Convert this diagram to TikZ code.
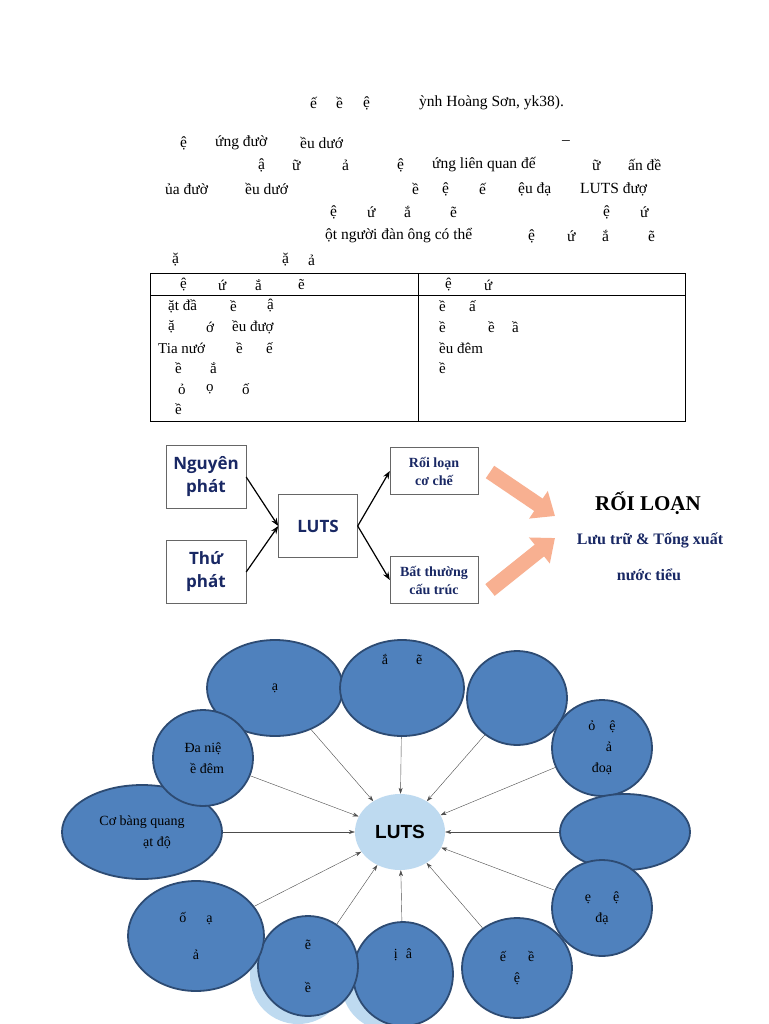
\documentclass[tikz,border=0pt]{standalone}
\usepackage{fontspec}
\setmainfont{Liberation Serif}
\newfontfamily\boxfont{Open Sans}
\newfontfamily\lutsfont{Liberation Sans}
\usetikzlibrary{shapes.geometric,arrows.meta}
\definecolor{navy}{RGB}{25,40,100}
\definecolor{bubble}{RGB}{79,129,189}
\definecolor{bubbleline}{RGB}{45,75,115}
\definecolor{pale}{RGB}{190,218,240}
\definecolor{peach}{RGB}{248,176,145}
\tikzset{
  frag/.style={anchor=west, inner sep=0pt, font=\fontsize{15.5}{18}\selectfont},
  cell/.style={anchor=west, inner sep=0pt, font=\fontsize{15}{17}\selectfont},
  pbox/.style={draw=black!60, fill=white, minimum width=80pt, minimum height=63pt, align=center, font=\boxfont\bfseries\fontsize{17}{23}\selectfont, text=navy},
  sbox/.style={draw=black!60, fill=white, minimum width=88pt, minimum height=47pt, align=center, font=\bfseries\fontsize{14}{18}\selectfont, text=navy},
  bub/.style={ellipse, draw=bubbleline, line width=1.8pt, fill=bubble, inner sep=0pt, align=center, font=\fontsize{14}{21}\selectfont},
  spoke/.style={-{Stealth[length=6pt,width=4pt]}, draw=black!70, line width=0.4pt}
}
\begin{document}
\begin{tikzpicture}[x=1pt,y=-1pt]
\useasboundingbox (0,0) rectangle (768,1024);
\fill[white] (0,0) rectangle (768,1024);

% text lines
\foreach \x/\t in {310/ế, 336/ề, 363/ệ, 419/{ỳnh Hoàng Sơn, yk38).}}
  \node[frag] (l1) at (\x,103) {\t};
\foreach \x/\t in {180/ệ, 215/ứng đườ, 300/ều dướ, 562/–}
  \node[frag] (l2) at (\x,143) {\t};
\foreach \x/\t in {258/ậ, 292/ữ, 342/ả, 397/ệ, 432/ứng liên quan đế, 592/ữ, 628/ấn đề}
  \node[frag] (l3) at (\x,165) {\t};
\foreach \x/\t in {165/ủa đườ, 245/ều dướ, 412/ề, 442/ệ, 479/ế, 518/ệu đạ, 580/LUTS đượ}
  \node[frag] (l4) at (\x,189) {\t};
\foreach \x/\t in {330/ệ, 367/ứ, 404/ắ, 450/ẽ, 603/ệ, 640/ứ}
  \node[frag] (l5) at (\x,212) {\t};
\foreach \x/\t in {325/ột người đàn ông có thể, 528/ệ, 567/ứ, 602/ắ, 648/ẽ}
  \node[frag] (l6) at (\x,236) {\t};
\foreach \x/\t in {172/ặ, 282/ặ, 308/ả}
  \node[frag] (l7) at (\x,260) {\t};

% table
\draw[line width=0.8pt] (150,273) rectangle (685,421);
\draw[line width=0.8pt] (150,295) -- (685,295);
\draw[line width=0.8pt] (418,273) -- (418,421);
\foreach \x/\t in {180/ệ, 218/ứ, 255/ắ, 298/ẽ, 445/ệ, 484/ứ}
  \node[cell] (th) at (\x,285) {\t};
\foreach \x/\y/\t in {168/306/ặt đầ, 230/306/ề, 267/306/ậ, 168/327/ặ, 206/327/ớ, 232/327/ều đượ,
    158/348/Tia nướ, 236/348/ề, 266/348/ế, 175/368/ề, 210/368/ắ, 178/389/ỏ, 206/389/ọ, 242/389/ố, 175/409/ề,
    439/306/ề, 469/306/ấ, 439/327/ề, 488/327/ề, 512/327/ầ, 439/348/ều đêm, 439/368/ề}
  \node[cell] (td) at (\x,\y) {\t};

% middle diagram
\node[pbox] (prim) at (206,477) {Nguyên\\phát};
\node[pbox] (sec) at (206,572) {Thứ\\phát};
\node[pbox, minimum width=79pt] (luts) at (318,526) {LUTS};
\node[sbox] (mech) at (434,471) {Rối loạn\\cơ chế};
\node[sbox] (struct) at (434,580) {Bất thường\\cấu trúc};
\draw[-{Stealth[length=8pt]}, line width=1.2pt] (prim.east) -- (luts.west);
\draw[-{Stealth[length=8pt]}, line width=1.2pt] (sec.east) -- (luts.west);
\draw[-{Stealth[length=8pt]}, line width=1.2pt] (luts.east) -- (mech.west);
\draw[-{Stealth[length=8pt]}, line width=1.2pt] (luts.east) -- (struct.west);
\node[font=\bfseries\fontsize{21}{24}\selectfont] (dis) at (648,503) {RỐI LOẠN};
\node[font=\bfseries\fontsize{16}{18}\selectfont, text=navy] (store) at (650,540) {Lưu trữ \& Tống xuất};
\node[font=\bfseries\fontsize{16}{18}\selectfont, text=navy] (urine) at (649,575) {nước tiểu};
\coordinate (pa1) at (490,472);
\coordinate (pa2) at (490,590);
\draw[-{Triangle[length=20pt,width=32pt]}, line width=15pt, draw=peach] (pa1) -- (555,516);
\draw[-{Triangle[length=20pt,width=32pt]}, line width=15pt, draw=peach] (pa2) -- (555,538);

% bubbles
\fill[pale] (298,976) ellipse (48pt and 48pt);
\fill[pale] (390,985) ellipse (48pt and 46pt);
\node[bub, minimum width=136pt, minimum height=96pt] (b1) at (275,688) {ạ};
\node[bub, minimum width=124pt, minimum height=96pt] (b2) at (402,688) {ắ\hspace{28pt}ẽ\\[36pt]};
\node[bub, minimum width=100pt, minimum height=94pt] (b3) at (517,698) {};
\node[bub, minimum width=100pt, minimum height=96pt] (b4) at (602,748) {ỏ\hspace{14pt}ệ\\\hspace{14pt}ả\\đoạ};
\node[bub, minimum width=130pt, minimum height=76pt] (b5) at (625,832) {};
\node[bub, minimum width=100pt, minimum height=96pt] (b6) at (602,908) {ẹ\hspace{22pt}ệ\\đạ};
\node[bub, minimum width=110pt, minimum height=100pt] (b7) at (517,968) {ế\hspace{22pt}ề\\ệ};
\node[bub, minimum width=100pt, minimum height=104pt] (b8) at (403,974) {ị\hspace{8pt}â\\[20pt]};
\node[bub, minimum width=100pt, minimum height=100pt] (b9) at (308,966) {ẽ\\[22pt]ề};
\node[bub, minimum width=136pt, minimum height=110pt] (b10) at (196,936) {ố\hspace{20pt}ạ\\[16pt]ả\hspace{30pt}};
\node[bub, minimum width=160pt, minimum height=94pt] (b11) at (142,832) {Cơ bàng quang\\\hspace{30pt}ạt độ};
\node[bub, minimum width=100pt, minimum height=96pt] (b12) at (203,758) {Đa niệ\\\hspace{8pt}ề đêm};
\node[ellipse, fill=pale, minimum width=90pt, minimum height=76pt, font=\lutsfont\bfseries\fontsize{19}{22}\selectfont] (hub) at (400,832) {LUTS};
\foreach \b in {b1,b2,b3,b4,b5,b6,b7,b8,b9,b10,b11,b12}
  \draw[spoke] (\b) -- (hub);
\end{tikzpicture}
\end{document}
